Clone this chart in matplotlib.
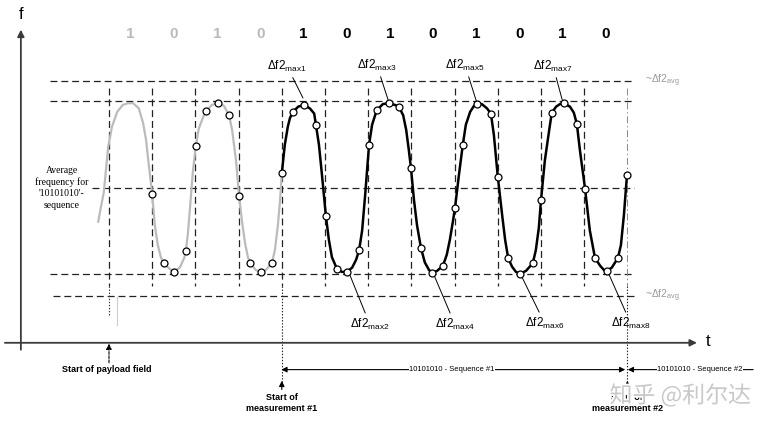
import matplotlib
matplotlib.use('Agg')
import matplotlib.pyplot as plt
import matplotlib.patheffects as pe

plt.rcParams['font.family'] = ['Liberation Sans', 'DejaVu Sans']
plt.rcParams['mathtext.fontset'] = 'custom'
plt.rcParams['mathtext.rm'] = 'Liberation Sans'
plt.rcParams['mathtext.it'] = 'Liberation Sans:italic'
plt.rcParams['mathtext.bf'] = 'Liberation Sans:bold'
plt.rcParams['lines.scale_dashes'] = False

# time in bit periods (0 = start of payload), frequency normalised to the peak deviation
bits_pre = ['1', '0', '1', '0']
bits_seq = ['1', '0', '1', '0', '1', '0', '1', '0']
bit_edges = [0, 1, 2, 3, 4, 5, 6, 7, 8, 9, 10, 11, 12]
f_levels = [1.24, 1.0, 0.0, -1.0, -1.25]

# grey part of the signal (before measurement)
pre_t = [-0.25, -0.19, -0.12, -0.07, -0.02, 0.07, 0.19, 0.32, 0.44, 0.56, 0.69, 0.79, 0.86, 0.90,
         1.00, 1.06, 1.13, 1.20, 1.27, 1.37, 1.50, 1.64, 1.74, 1.78, 1.83, 1.88, 1.94, 2.01, 2.08,
         2.18, 2.25, 2.38, 2.52, 2.66, 2.78, 2.85, 2.94, 3.01, 3.08, 3.15, 3.22, 3.29, 3.40, 3.52,
         3.63, 3.73, 3.77, 3.84, 3.91, 3.96, 4.00]
pre_f = [-0.39, -0.23, -0.05, 0.21, 0.47, 0.71, 0.88, 0.96, 0.98, 0.98, 0.92, 0.75, 0.55, 0.36,
         -0.07, -0.43, -0.66, -0.80, -0.87, -0.92, -0.97, -0.92, -0.81, -0.73, -0.51, -0.20, 0.18, 0.49, 0.69,
         0.82, 0.89, 0.96, 0.98, 0.95, 0.84, 0.67, 0.32, -0.09, -0.39, -0.64, -0.81, -0.88, -0.95, -0.97,
         -0.95, -0.89, -0.87, -0.72, -0.43, -0.14, 0.17]

# black part (measurement sequence #1)
seq_t = [4.00, 4.07, 4.14, 4.19, 4.26, 4.38, 4.51, 4.65, 4.75, 4.79, 4.86, 4.93, 5.02, 5.09, 5.16,
         5.28, 5.39, 5.51, 5.63, 5.72, 5.79, 5.86, 5.93, 6.02, 6.09, 6.16, 6.20, 6.34, 6.48, 6.62,
         6.71, 6.81, 6.88, 6.94, 6.99, 7.06, 7.13, 7.22, 7.31, 7.41, 7.48, 7.59, 7.73, 7.82, 7.89,
         7.96, 8.01, 8.10, 8.19, 8.26, 8.36, 8.45, 8.52, 8.63, 8.75, 8.84, 8.91, 9.00, 9.10, 9.17,
         9.24, 9.33, 9.42, 9.51, 9.65, 9.81, 9.88, 9.95, 10.00, 10.09, 10.19, 10.25, 10.35, 10.44,
         10.53, 10.67, 10.76, 10.83, 10.90, 11.02, 11.13, 11.25, 11.37, 11.46, 11.53, 11.64, 11.78,
         11.85, 11.92, 11.99]
seq_f = [0.17, 0.50, 0.71, 0.81, 0.88, 0.94, 0.96, 0.92, 0.86, 0.73, 0.50, 0.15, -0.32, -0.60, -0.80,
         -0.94, -0.97, -0.97, -0.92, -0.83, -0.72, -0.49, -0.08, 0.50, 0.73, 0.84, 0.90, 0.97, 0.98, 0.96,
         0.94, 0.84, 0.67, 0.44, 0.23, -0.14, -0.43, -0.69, -0.86, -0.95, -0.98, -0.96, -0.90, -0.77, -0.60,
         -0.39, -0.23, 0.15, 0.50, 0.73, 0.88, 0.95, 0.97, 0.97, 0.92, 0.86, 0.61, 0.13, -0.31, -0.60,
         -0.81, -0.91, -0.97, -0.99, -0.96, -0.87, -0.72, -0.46, -0.14, 0.32, 0.67, 0.87, 0.94, 0.97,
         0.98, 0.94, 0.87, 0.74, 0.44, -0.01, -0.49, -0.81, -0.90, -0.95, -0.96, -0.92, -0.81,
         -0.66, -0.31, 0.15]

# sample points (circles)
pre_samp_t = [1.00, 1.27, 1.50, 1.78, 2.01, 2.25, 2.52, 2.78, 3.01, 3.26, 3.52, 3.77]
pre_samp_f = [-0.07, -0.87, -0.97, -0.73, 0.49, 0.89, 0.98, 0.84, -0.09, -0.87, -0.97, -0.87]
seq_samp_t = [4.00, 4.26, 4.51, 4.79, 5.02, 5.28, 5.51, 5.79, 6.02, 6.20, 6.48, 6.71, 6.99, 7.22,
              7.48, 7.73, 8.01, 8.19, 8.52, 8.84, 9.00, 9.24, 9.51, 9.81, 10.00, 10.25, 10.53, 10.83,
              11.02, 11.25, 11.53, 11.78, 11.99]
seq_samp_f = [0.17, 0.88, 0.96, 0.73, -0.32, -0.94, -0.97, -0.72, 0.50, 0.90, 0.98, 0.94, 0.23, -0.69,
              -0.98, -0.90, -0.23, 0.50, 0.97, 0.86, 0.13, -0.81, -0.99, -0.87, -0.14, 0.87, 0.98, 0.74,
              -0.01, -0.81, -0.96, -0.81, 0.15]

# delta f2 max labels
max_names = ['max1', 'max2', 'max3', 'max4', 'max5', 'max6', 'max7', 'max8']
max_pt_t = [4.49, 5.53, 6.46, 7.50, 8.50, 9.51, 10.49, 11.53]
max_pt_f = [1.04, -0.95, 1.02, -0.98, 1.01, -0.98, 1.02, -0.95]
max_lab_t = [4.12, 6.04, 6.20, 8.01, 8.24, 10.09, 10.28, 12.08]
max_lab_f = [1.41, -1.58, 1.42, -1.58, 1.42, -1.57, 1.41, -1.57]

fig = plt.figure(figsize=(7.7, 4.28), dpi=100)
ax = fig.add_axes([0, 0, 1, 1])
ax.set_xlim(-2.523, 15.301)
ax.set_ylim(-2.775, 2.173)
ax.axis('off')

# horizontal reference lines
starts = [-1.37, -1.37, -0.39, -1.37, -1.30]
for lev, s in zip(f_levels, starts):
    ax.plot([s, 12.15], [lev, lev], color='#222222', lw=0.9, dashes=(5, 2.8), zorder=1)

# bit boundaries
for e in bit_edges[:-1]:
    ax.plot([e, e], [1.16, -1.13], color='#222222', lw=0.9, dashes=(5, 2.8), zorder=1)
ax.plot([bit_edges[-1]] * 2, [1.16, -1.13], color='#888888', lw=0.7, dashes=(5, 2, 1, 2), zorder=1)
ax.plot([0, 0], [-1.13, -1.47], color='#333333', lw=0.8, dashes=(1, 1.2))
ax.plot([0.19, 0.19], [-1.26, -1.58], color='#cccccc', lw=0.8)
for e in (4, 12):
    ax.plot([e, e], [-1.13, -2.24], color='#222222', lw=0.8, dashes=(1, 1.2), zorder=1)
    ax.annotate('', xy=(e, -2.23), xytext=(e, -2.33),
                arrowprops=dict(arrowstyle='-|>', color='k', lw=0.8, mutation_scale=8,
                                shrinkA=0, shrinkB=0))

# signal
ax.plot(pre_t, pre_f, color='#bbbbbb', lw=1.6, zorder=2)
ax.plot(seq_t, seq_f, color='black', lw=1.8, zorder=3)
ax.plot(pre_samp_t, pre_samp_f, 'o', ms=5, mfc='white', mec='black', mew=0.9, zorder=4)
ax.plot(seq_samp_t, seq_samp_f, 'o', ms=5, mfc='white', mec='black', mew=0.9, zorder=4)

# bit labels
for i, b in enumerate(bits_pre + bits_seq):
    ax.text(i + 0.5, 1.78, b, ha='center', va='center', fontsize=11, fontweight='bold',
            color='#bbbbbb' if i < len(bits_pre) else 'black')

# axes arrows
ax.annotate('', xy=(-2.04, 1.83), xytext=(-2.04, -1.87),
            arrowprops=dict(arrowstyle='-|>', color='#3a3a3a', lw=1.3, mutation_scale=10,
                            shrinkA=0, shrinkB=0))
ax.annotate('', xy=(13.61, -1.79), xytext=(-2.41, -1.79),
            arrowprops=dict(arrowstyle='-|>', color='#3a3a3a', lw=1.3, mutation_scale=10,
                            shrinkA=0, shrinkB=0))
ax.text(-2.04, 2.0, 'f', ha='center', va='center', fontsize=12)
ax.text(13.87, -1.78, 't', ha='center', va='center', fontsize=12)

# labels
ax.text(-1.09, 0.0, "Average\nfrequency for\n'10101010'-\nsequence", ha='center', va='center',
        fontsize=7, family='Liberation Serif', linespacing=1.3)
for lev in (f_levels[0], f_levels[-1]):
    ax.text(12.41, lev, r'~$\Delta\mathrm{f2}_{\mathrm{avg}}$', ha='left', va='center',
            fontsize=7.5, color='#999999')
for name, pt, pf, lt, lf in zip(max_names, max_pt_t, max_pt_f, max_lab_t, max_lab_f):
    ax.annotate(r'$\Delta\mathrm{f2}_{\mathrm{%s}}$' % name, xy=(pt, pf), xytext=(lt, lf),
                ha='center', va='center', fontsize=8.5,
                arrowprops=dict(arrowstyle='-', color='black', lw=0.7, shrinkA=1, shrinkB=0))

ax.annotate('', xy=(0, -1.80), xytext=(0, -2.02),
            arrowprops=dict(arrowstyle='-|>', color='k', lw=0.8, mutation_scale=8,
                            shrinkA=0, shrinkB=0, linestyle=(0, (2, 1))))
ax.text(-0.05, -2.05, 'Start of payload field', ha='center', va='top', fontsize=6.5,
        fontweight='bold')
ax.text(4.0, -2.49, 'Start of\nmeasurement #1', ha='center', va='center', fontsize=6.5,
        fontweight='bold', linespacing=1.3)
ax.text(12.0, -2.49, 'Start of\nmeasurement #2', ha='center', va='center', fontsize=6.5,
        fontweight='bold', linespacing=1.3)

# sequence arrows
ax.annotate('', xy=(3.99, -2.10), xytext=(11.95, -2.10),
            arrowprops=dict(arrowstyle='<|-|>', color='k', lw=0.8, mutation_scale=8,
                            shrinkA=0, shrinkB=0))
ax.annotate('', xy=(12.01, -2.10), xytext=(14.91, -2.10),
            arrowprops=dict(arrowstyle='-|>', color='k', lw=0.8, mutation_scale=8,
                            shrinkA=0, shrinkB=0))
ax.text(7.94, -2.10, '10101010 - Sequence #1', ha='center', va='center', fontsize=5.5,
        bbox=dict(fc='white', ec='none', pad=0.5))
ax.text(13.68, -2.10, '10101010 - Sequence #2', ha='center', va='center', fontsize=5.5,
        bbox=dict(fc='white', ec='none', pad=0.5))

# watermark
ax.text(13.22, -2.40, '知乎 @利尔达', ha='center', va='center', fontsize=16.5, color='#c8c8c8',
        family=['Noto Sans CJK SC', 'DejaVu Sans'], zorder=10,
        path_effects=[pe.withStroke(linewidth=2.5, foreground='white')])

fig.savefig('out.png', dpi=100)
